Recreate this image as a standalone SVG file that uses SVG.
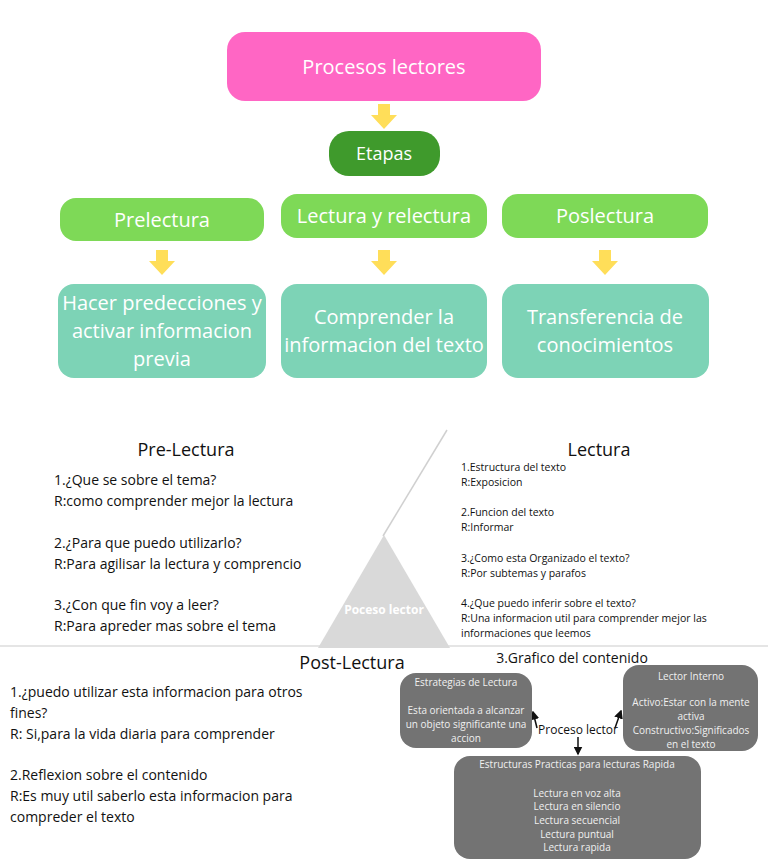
<svg xmlns="http://www.w3.org/2000/svg" width="768" height="862" viewBox="0 0 768 862">
<style>
text{font-family:"Open Sans","Noto Sans",sans-serif}
.w{fill:#fff;text-anchor:middle}
.t20{font-size:20px}
.k{fill:#111}
.s14{font-size:14px}
.s10{font-size:10.5px}
.g{fill:#737373}
.gt{fill:#f0f0f0;font-size:10px;text-anchor:middle}
.ar{fill:#ffde59}
.top{fill:#7ed957}
.teal{fill:#7dd3b6}
</style>
<defs>
<marker id="m" markerWidth="6" markerHeight="6" refX="5" refY="3" orient="auto"><path d="M0,0 L6,3 L0,6 z" fill="#111"/></marker>
<g id="ya"><path d="M-6,0 H6 V11 H13 L0,25 L-13,11 H-6 Z" class="ar"/></g>
</defs>
<rect width="768" height="862" fill="#fff"/>
<g id="procesos"><rect x="227" y="32" width="314" height="69" rx="18" fill="#ff66c4"/><text x="384" y="74" class="w t20">Procesos lectores</text></g>
<g id="etapas"><rect x="329" y="131" width="111" height="45" rx="20" fill="#3f9a2c"/><text x="384" y="160" class="w" font-size="18">Etapas</text></g>
<g id="prelectura"><rect x="60" y="198" width="204" height="43" rx="16" class="top"/><text x="162" y="227" class="w t20">Prelectura</text></g>
<g id="lectura-relectura"><rect x="281" y="194" width="206" height="44" rx="16" class="top"/><text x="384" y="223" class="w t20">Lectura y relectura</text></g>
<g id="poslectura"><rect x="502" y="194" width="206" height="44" rx="16" class="top"/><text x="605" y="223" class="w t20">Poslectura</text></g>
<g id="hacer"><rect x="58" y="284" width="208" height="94" rx="16" class="teal"/><text class="w t20"><tspan x="162" y="310">Hacer predecciones y</tspan><tspan x="162" y="338">activar informacion</tspan><tspan x="162" y="366">previa</tspan></text></g>
<g id="comprender"><rect x="281" y="284" width="206" height="94" rx="16" class="teal"/><text class="w t20"><tspan x="384" y="324">Comprender la</tspan><tspan x="384" y="352">informacion del texto</tspan></text></g>
<g id="transferencia"><rect x="502" y="284" width="207" height="94" rx="16" class="teal"/><text class="w t20"><tspan x="605" y="324">Transferencia de</tspan><tspan x="605" y="352">conocimientos</tspan></text></g>
<g id="connectors">
<use href="#ya" x="384" y="104"/>
<use href="#ya" x="162" y="250"/>
<use href="#ya" x="384" y="250"/>
<use href="#ya" x="605" y="250"/>
<line x1="447" y1="430" x2="383" y2="536" stroke="#d0d0d0" stroke-width="1.5"/>
<line x1="0" y1="646" x2="768" y2="646" stroke="#ddd" stroke-width="1.5"/>
<path d="M537,728 L533,712" stroke="#111" stroke-width="1.5" marker-end="url(#m)"/>
<path d="M615,728 L621,711" stroke="#111" stroke-width="1.5" marker-end="url(#m)"/>
<path d="M578,737 V754" stroke="#111" stroke-width="1.5" marker-end="url(#m)"/>
</g>
<g id="triangle"><path d="M384,535 L318,648 L450,648 Z" fill="#d9d9d9"/><text x="384" y="614" class="w" font-size="12" font-weight="bold">Poceso lector</text></g>
<g id="pre-lectura">
<text x="186" y="456" class="k" font-size="18" text-anchor="middle">Pre-Lectura</text>
<text class="k s14"><tspan x="54" y="485">1.¿Que se sobre el tema?</tspan><tspan x="54" y="506">R:como comprender mejor la lectura</tspan><tspan x="54" y="548">2.¿Para que puedo utilizarlo?</tspan><tspan x="54" y="569">R:Para agilisar la lectura y comprencio</tspan><tspan x="54" y="610">3.¿Con que fin voy a leer?</tspan><tspan x="54" y="631">R:Para apreder mas sobre el tema</tspan></text>
</g>
<g id="lectura">
<text x="599" y="456" class="k" font-size="18" text-anchor="middle">Lectura</text>
<text class="k s10"><tspan x="461" y="471">1.Estructura del texto</tspan><tspan x="461" y="486">R:Exposicion</tspan><tspan x="461" y="516">2.Funcion del texto</tspan><tspan x="461" y="531">R:Informar</tspan><tspan x="461" y="562">3.¿Como esta  Organizado el texto?</tspan><tspan x="461" y="577">R:Por subtemas y parafos</tspan><tspan x="461" y="607">4.¿Que puedo inferir sobre el texto?</tspan><tspan x="461" y="622">R:Una informacion util para comprender mejor las</tspan><tspan x="461" y="637">informaciones que leemos</tspan></text>
</g>
<g id="post-lectura">
<text x="352" y="669" class="k" font-size="18" text-anchor="middle">Post-Lectura</text>
<text class="k s14"><tspan x="10" y="697">1.¿puedo utilizar esta informacion para otros</tspan><tspan x="10" y="718">fines?</tspan><tspan x="10" y="739">R: Si,para la vida diaria para comprender</tspan><tspan x="10" y="780">2.Reflexion sobre el contenido</tspan><tspan x="10" y="801">R:Es muy util saberlo esta informacion para</tspan><tspan x="10" y="822">compreder el texto</tspan></text>
</g>
<g id="grafico"><text x="572" y="663" class="k" font-size="14" text-anchor="middle">3.Grafico del contenido</text></g>
<g id="estrategias"><rect x="400" y="673" width="132" height="75" rx="16" class="g"/><text class="gt"><tspan x="466" y="686">Estrategias de Lectura</tspan><tspan x="466" y="714">Esta orientada a alcanzar</tspan><tspan x="466" y="728">un objeto significante una</tspan><tspan x="466" y="742">accion</tspan></text></g>
<g id="lector-interno"><rect x="623" y="665" width="135" height="86" rx="16" class="g"/><text class="gt"><tspan x="691" y="680">Lector Interno</tspan><tspan x="691" y="706">Activo:Estar con la mente</tspan><tspan x="691" y="720">activa</tspan><tspan x="691" y="734">Constructivo:Significados</tspan><tspan x="691" y="748">en el texto</tspan></text></g>
<g id="proceso-lector"><text x="578" y="734" class="k" font-size="12" text-anchor="middle">Proceso lector</text></g>
<g id="estructuras"><rect x="454" y="756" width="247" height="103" rx="16" class="g"/><text class="gt"><tspan x="577" y="768">Estructuras Practicas para lecturas Rapida</tspan><tspan x="577" y="797">Lectura en voz alta</tspan><tspan x="577" y="810">Lectura en silencio</tspan><tspan x="577" y="824">Lectura secuencial</tspan><tspan x="577" y="838">Lectura puntual</tspan><tspan x="577" y="851">Lectura rapida</tspan></text></g>
</svg>
